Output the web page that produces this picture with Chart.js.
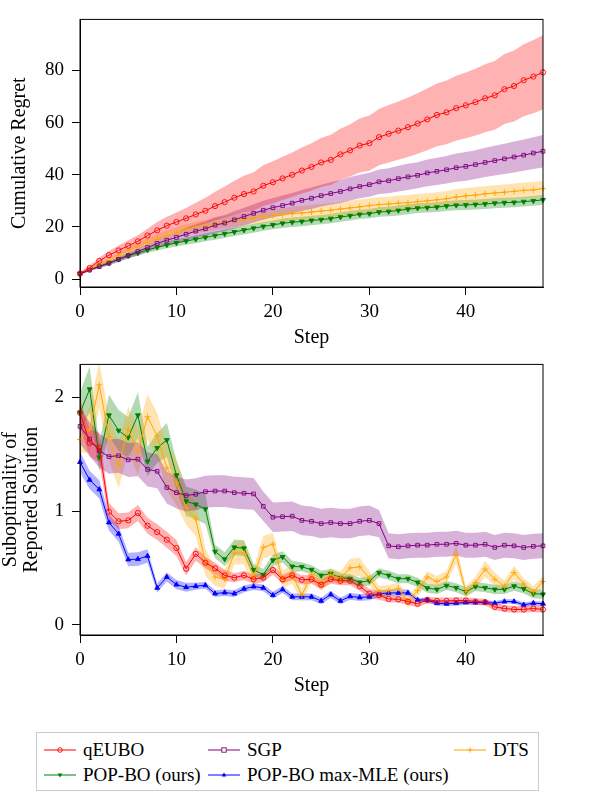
<!DOCTYPE html>
<html>
<head>
<meta charset="utf-8">
<script src="https://cdn.jsdelivr.net/npm/chart.js@4.4.1/dist/chart.umd.min.js"></script>
<style>
  html, body { margin: 0; padding: 0; background: #fff; }
  body { width: 589px; height: 797px; position: relative; overflow: hidden; font-family: "Liberation Serif", serif; }
  canvas { position: absolute; left: 0; }
  #legend { position: absolute; left: 36px; top: 732px; width: 503px; height: 59px; box-sizing: border-box; border: 1px solid #cccccc; background: #fff; }
  .item { position: absolute; height: 22px; display: flex; align-items: center; font-size: 19px; color: #000; white-space: nowrap; }
  .item svg { margin-right: 7px; }
</style>
</head>
<body>
<canvas id="top" width="589" height="350" style="top:0px"></canvas>
<canvas id="bot" width="589" height="360" style="top:345px"></canvas>
<div id="legend"></div>
<script>
// ---------- data ----------
const steps = [0,1,2,3,4,5,6,7,8,9,10,11,12,13,14,15,16,17,18,19,20,21,22,23,24,25,26,27,28,29,30,31,32,33,34,35,36,37,38,39,40,41,42,43,44,45,46,47,48];
const xTicks = [0,10,20,30,40];
const topYTicks = [0,20,40,60,80];
const botYTicks = [0,1,2];

const seriesNames = ['qEUBO','SGP','DTS','POP-BO (ours)','POP-BO max-MLE (ours)'];

// Top panel: cumulative regret (mean and half-width of band)
const regretQEUBO = [2.2,4.3,7.0,9.2,11.0,12.8,14.5,16.7,18.7,20.5,21.9,23.3,24.8,26.2,28.0,29.5,31.2,32.6,33.6,35.8,37.1,38.6,40.0,41.6,43.0,44.7,45.7,47.8,49.3,51.2,52.1,54.4,55.7,56.9,58.2,59.6,61.2,62.9,63.9,65.5,66.6,67.8,69.3,70.4,72.8,74.0,76.2,77.6,79.2];
const regretQEUBOStd = [0.5,0.9,1.3,1.6,1.9,2.1,2.3,2.6,3.2,3.4,3.6,4.0,4.5,5.0,5.5,6.0,6.5,7.0,7.4,7.8,8.1,8.3,8.5,8.8,9.1,9.4,9.6,9.8,10.0,10.3,10.6,10.8,11.0,11.2,11.4,11.6,11.8,12.0,12.2,12.4,12.6,12.8,13.0,13.2,13.4,13.6,13.8,14.0,14.2];
const regretSGP = [2.0,3.5,4.8,6.1,7.6,9.1,10.6,12.1,13.7,14.9,16.0,17.2,18.4,19.3,20.7,21.5,22.7,24.0,25.2,26.4,27.4,28.2,29.1,30.2,31.0,32.0,32.8,33.6,34.6,35.5,36.2,37.3,37.7,38.5,39.2,39.8,40.7,41.3,41.9,42.7,43.2,43.9,44.7,45.4,46.1,46.8,47.5,48.3,49.0];
const regretSGPStd = [0.3,0.5,0.7,0.9,1.0,1.2,1.4,1.6,1.8,2.0,2.2,2.4,2.6,2.8,3.0,3.1,3.3,3.4,3.5,3.6,3.7,3.8,3.9,4.0,4.1,4.2,4.3,4.4,4.5,4.5,4.6,4.7,4.8,4.9,5.0,5.0,5.1,5.2,5.3,5.4,5.5,5.5,5.6,5.7,5.8,5.9,6.0,6.1,6.2];
const regretDTS = [2.0,3.8,5.6,7.2,9.0,10.8,12.4,14.0,15.4,16.7,18.0,19.0,19.8,20.5,21.2,21.8,22.4,22.9,23.4,23.9,24.3,24.7,25.1,25.4,25.7,26.1,26.4,26.9,27.3,27.7,28.2,28.6,28.8,29.1,29.3,29.7,30.0,30.4,30.8,31.5,31.9,32.2,32.7,33.0,33.3,33.6,34.0,34.2,34.7];
const regretDTSStd = [0.3,0.5,0.7,0.9,1.1,1.3,1.5,1.7,1.8,1.9,2.0,2.1,2.2,2.2,2.3,2.3,2.4,2.4,2.5,2.5,2.5,2.6,2.6,2.6,2.7,2.7,2.7,2.7,2.8,2.8,2.8,2.8,2.8,2.9,2.9,2.9,2.9,2.9,3.0,3.0,3.0,3.0,3.0,3.0,3.0,3.0,3.0,3.0,3.0];
const regretPOP = [2.0,3.6,5.0,6.2,7.6,8.9,10.0,11.2,12.2,13.1,13.9,14.6,15.3,16.0,16.7,17.4,18.1,18.8,19.5,20.2,20.8,21.4,21.8,22.1,22.5,22.8,23.2,23.8,24.3,24.8,25.1,25.7,25.9,26.3,26.8,27.2,27.4,27.6,28.0,28.3,28.4,28.6,28.8,29.1,29.3,29.4,29.7,30.0,30.4];
const regretPOPStd = [0.3,0.5,0.6,0.7,0.8,0.9,1.0,1.1,1.2,1.3,1.4,1.4,1.5,1.5,1.6,1.6,1.6,1.7,1.7,1.7,1.7,1.8,1.8,1.8,1.8,1.8,1.8,1.8,1.8,1.8,1.8,1.8,1.8,1.9,1.9,1.9,1.9,1.9,1.9,1.9,1.9,1.9,1.9,1.9,1.9,1.9,1.9,1.9,1.9];

// Bottom panel: suboptimality of reported solution
const subQEUBO = [1.865,1.60,1.557,0.994,0.91,0.918,0.983,0.871,0.815,0.748,0.675,0.493,0.624,0.546,0.496,0.434,0.414,0.434,0.40,0.414,0.481,0.40,0.434,0.395,0.40,0.353,0.40,0.387,0.387,0.339,0.274,0.26,0.227,0.224,0.204,0.185,0.218,0.21,0.21,0.213,0.213,0.204,0.199,0.157,0.143,0.135,0.135,0.143,0.135];
const subQEUBOStd = [0.12,0.12,0.13,0.08,0.07,0.07,0.07,0.07,0.07,0.07,0.07,0.06,0.06,0.05,0.05,0.05,0.04,0.04,0.04,0.04,0.04,0.04,0.04,0.04,0.04,0.04,0.04,0.04,0.04,0.04,0.04,0.04,0.03,0.03,0.03,0.03,0.03,0.03,0.03,0.03,0.03,0.03,0.03,0.03,0.03,0.03,0.03,0.03,0.03];
const subSGP = [1.745,1.633,1.53,1.479,1.487,1.45,1.456,1.366,1.35,1.207,1.162,1.137,1.148,1.171,1.176,1.176,1.162,1.157,1.151,1.042,0.946,0.95,0.955,0.918,0.91,0.89,0.899,0.89,0.89,0.91,0.918,0.89,0.694,0.686,0.694,0.70,0.70,0.708,0.708,0.716,0.70,0.70,0.708,0.68,0.70,0.694,0.68,0.69,0.694];
const subSGPStd = [0.15,0.15,0.15,0.15,0.15,0.15,0.15,0.15,0.15,0.14,0.14,0.14,0.14,0.14,0.14,0.14,0.14,0.14,0.14,0.13,0.13,0.13,0.13,0.13,0.13,0.13,0.13,0.13,0.13,0.13,0.13,0.12,0.11,0.11,0.11,0.11,0.11,0.11,0.11,0.11,0.11,0.11,0.11,0.11,0.11,0.11,0.11,0.11,0.11];
const subDTS = [1.63,1.72,2.11,1.65,1.40,1.72,1.52,1.83,1.66,1.38,1.25,1.03,0.93,0.55,0.42,0.40,0.63,0.63,0.42,0.68,0.71,0.40,0.44,0.26,0.44,0.36,0.44,0.41,0.50,0.51,0.41,0.29,0.30,0.32,0.20,0.30,0.42,0.38,0.42,0.62,0.29,0.37,0.49,0.40,0.34,0.46,0.36,0.29,0.38];
const subDTSStd = [0.12,0.2,0.2,0.2,0.2,0.2,0.2,0.2,0.2,0.2,0.2,0.15,0.15,0.12,0.08,0.08,0.1,0.1,0.08,0.1,0.1,0.08,0.08,0.06,0.06,0.06,0.06,0.06,0.08,0.08,0.06,0.05,0.05,0.05,0.05,0.05,0.05,0.05,0.05,0.08,0.05,0.05,0.07,0.06,0.05,0.06,0.05,0.05,0.05];
const subPOP = [1.865,2.072,1.473,1.843,1.708,1.647,1.843,1.437,1.555,1.625,1.316,1.087,1.059,1.017,0.644,0.577,0.681,0.673,0.484,0.44,0.568,0.597,0.513,0.51,0.484,0.434,0.45,0.414,0.405,0.373,0.387,0.458,0.434,0.405,0.405,0.373,0.322,0.311,0.345,0.325,0.29,0.336,0.325,0.311,0.311,0.34,0.316,0.274,0.268];
const subPOPStd = [0.18,0.2,0.12,0.18,0.18,0.18,0.2,0.13,0.13,0.15,0.13,0.13,0.13,0.13,0.06,0.06,0.07,0.07,0.05,0.05,0.05,0.05,0.05,0.04,0.04,0.04,0.04,0.04,0.04,0.04,0.04,0.04,0.04,0.04,0.04,0.04,0.04,0.04,0.04,0.04,0.04,0.04,0.04,0.04,0.04,0.04,0.04,0.04,0.04];
const subMLE = [1.431,1.274,1.19,0.899,0.80,0.574,0.577,0.605,0.324,0.42,0.353,0.33,0.339,0.347,0.274,0.283,0.274,0.316,0.336,0.325,0.26,0.31,0.246,0.246,0.246,0.21,0.266,0.21,0.25,0.24,0.246,0.274,0.28,0.28,0.28,0.218,0.218,0.19,0.185,0.19,0.196,0.196,0.196,0.19,0.204,0.204,0.176,0.19,0.185];
const subMLEStd = [0.09,0.08,0.08,0.07,0.07,0.06,0.06,0.06,0.04,0.04,0.04,0.04,0.03,0.03,0.03,0.03,0.03,0.03,0.03,0.03,0.03,0.03,0.03,0.03,0.03,0.03,0.03,0.03,0.03,0.03,0.03,0.03,0.03,0.03,0.03,0.02,0.02,0.02,0.02,0.02,0.02,0.02,0.02,0.02,0.02,0.02,0.02,0.02,0.02];

// ---------- styles ----------
const styles = [
  {color:'#ff0000', band:'rgba(255,0,0,0.3)',   point:'circle',   rot:0,   filled:false, r:2.6},
  {color:'#800080', band:'rgba(128,0,128,0.3)', point:'rect',     rot:0,   filled:false, r:2.6},
  {color:'#ffa500', band:'rgba(255,165,0,0.3)', point:'cross',    rot:0,   filled:false, r:3.0},
  {color:'#008000', band:'rgba(0,128,0,0.3)',   point:'triangle', rot:180, filled:true,  r:2.8},
  {color:'#0000ff', band:'rgba(0,0,255,0.3)',   point:'triangle', rot:0,   filled:true,  r:2.8}
];

const FAMILY = '"Liberation Serif", serif';
const TICK_FONT = {family: FAMILY, size: 19};
const TITLE_FONT = {family: FAMILY, size: 20};

function buildSeries(idx, mean, std) {
  const s = styles[idx];
  const lower = mean.map((v,i) => v - std[i]);
  const upper = mean.map((v,i) => v + std[i]);
  return [
    {label: '_lo', data: lower, borderWidth: 0, pointRadius: 0, fill: false, order: 2, borderColor: 'rgba(0,0,0,0)'},
    {label: '_hi', data: upper, borderWidth: 0, pointRadius: 0, fill: '-1', order: 2, borderColor: 'rgba(0,0,0,0)', backgroundColor: s.band},
    {label: seriesNames[idx], data: mean, borderColor: s.color, borderWidth: 1, fill: false, order: 1,
     pointStyle: s.point, pointRotation: s.rot, pointRadius: s.r, pointBorderWidth: 0.9,
     pointBorderColor: s.color, pointBackgroundColor: s.filled ? s.color : 'rgba(255,255,255,0)',
     clip: {left: 6, right: 6, top: 6, bottom: 6}}
  ];
}

const boxPlugin = {
  id: 'box',
  afterDraw(chart) {
    const {ctx, chartArea: a} = chart;
    ctx.save();
    ctx.strokeStyle = '#000';
    ctx.lineWidth = 1;
    ctx.strokeRect(a.left, a.top, a.right - a.left, a.bottom - a.top);
    ctx.restore();
  }
};

function makeOptions(cfg) {
  return {
    responsive: false,
    animation: false,
    devicePixelRatio: 1,
    layout: {padding: {left: 0, right: 46, top: cfg.padTop, bottom: 0}},
    plugins: {legend: {display: false}, tooltip: {enabled: false}},
    elements: {line: {tension: 0}},
    scales: {
      x: {
        type: 'linear', min: 0, max: 48,
        afterBuildTicks: sc => { sc.ticks = xTicks.map(v => ({value: v})); },
        afterFit: sc => { sc.height = cfg.xHeight; },
        ticks: {font: TICK_FONT, color: '#000', padding: 6, maxRotation: 0},
        grid: {display: true, drawOnChartArea: false, drawTicks: true, tickLength: 8, color: '#000', lineWidth: 1},
        border: {display: true, color: '#000', width: 1},
        title: {display: true, text: 'Step', font: TITLE_FONT, color: '#000', padding: {top: 0, bottom: cfg.xTitlePad}}
      },
      y: {
        type: 'linear', min: cfg.ymin, max: cfg.ymax,
        afterBuildTicks: sc => { sc.ticks = cfg.yTicks.map(v => ({value: v})); },
        afterFit: sc => { sc.width = 80; },
        ticks: {font: TICK_FONT, color: '#000', padding: 8},
        grid: {display: true, drawOnChartArea: false, drawTicks: true, tickLength: 8, color: '#000', lineWidth: 1},
        border: {display: true, color: '#000', width: 1},
        title: {display: true, text: cfg.yTitle, font: {family: FAMILY, size: 20, lineHeight: cfg.yLineHeight}, color: '#000', padding: {top: cfg.yTitlePad, bottom: 0}}
      }
    }
  };
}

new Chart(document.getElementById('top'), {
  type: 'line',
  data: {
    labels: steps,
    datasets: [
      ...buildSeries(0, regretQEUBO, regretQEUBOStd),
      ...buildSeries(1, regretSGP, regretSGPStd),
      ...buildSeries(2, regretDTS, regretDTSStd),
      ...buildSeries(3, regretPOP, regretPOPStd)
    ]
  },
  options: makeOptions({padTop: 3, xHeight: 63, xTitlePad: 0, ymin: -3, ymax: 99.5, yTicks: topYTicks, yTitle: 'Cumulative Regret', yTitlePad: 8, yLineHeight: 1.2}),
  plugins: [boxPlugin]
});

new Chart(document.getElementById('bot'), {
  type: 'line',
  data: {
    labels: steps,
    datasets: [
      ...buildSeries(0, subQEUBO, subQEUBOStd),
      ...buildSeries(1, subSGP, subSGPStd),
      ...buildSeries(2, subDTS, subDTSStd),
      ...buildSeries(3, subPOP, subPOPStd),
      ...buildSeries(4, subMLE, subMLEStd)
    ]
  },
  options: makeOptions({padTop: 6, xHeight: 70, xTitlePad: 7, ymin: -0.09, ymax: 2.29, yTicks: botYTicks, yTitle: ['Suboptimality of', 'Reported Solution'], yTitlePad: 0, yLineHeight: 1.05}),
  plugins: [boxPlugin]
});

// ---------- legend (HTML) ----------
function markerSVG(i) {
  const s = styles[i];
  const c = s.color;
  let m = '';
  if (s.point === 'circle') m = `<circle cx="16" cy="6" r="2.3" fill="none" stroke="${c}" stroke-width="0.9"/>`;
  else if (s.point === 'rect') m = `<rect x="13.8" y="3.8" width="4.4" height="4.4" fill="#fff" stroke="${c}" stroke-width="0.9"/>`;
  else if (s.point === 'cross') m = `<path d="M13.3 6H18.7M16 3.3V8.7" stroke="${c}" stroke-width="0.9"/>`;
  else if (s.rot === 180) m = `<path d="M13.6 4.6H18.4L16 8.4Z" fill="${c}"/>`;
  else m = `<path d="M13.6 7.4H18.4L16 3.6Z" fill="${c}"/>`;
  return `<svg width="32" height="12" viewBox="0 0 32 12"><line x1="0" y1="6" x2="32" y2="6" stroke="${c}" stroke-width="1"/>${m}</svg>`;
}
const legendPos = [
  {left: 7,   top: 6},
  {left: 171, top: 6},
  {left: 417, top: 6},
  {left: 7,   top: 31},
  {left: 171, top: 31}
];
const lg = document.getElementById('legend');
seriesNames.forEach((name, i) => {
  const d = document.createElement('div');
  d.className = 'item';
  d.style.left = legendPos[i].left + 'px';
  d.style.top = legendPos[i].top + 'px';
  d.innerHTML = markerSVG(i) + '<span>' + name + '</span>';
  lg.appendChild(d);
});
</script>
</body>
</html>
